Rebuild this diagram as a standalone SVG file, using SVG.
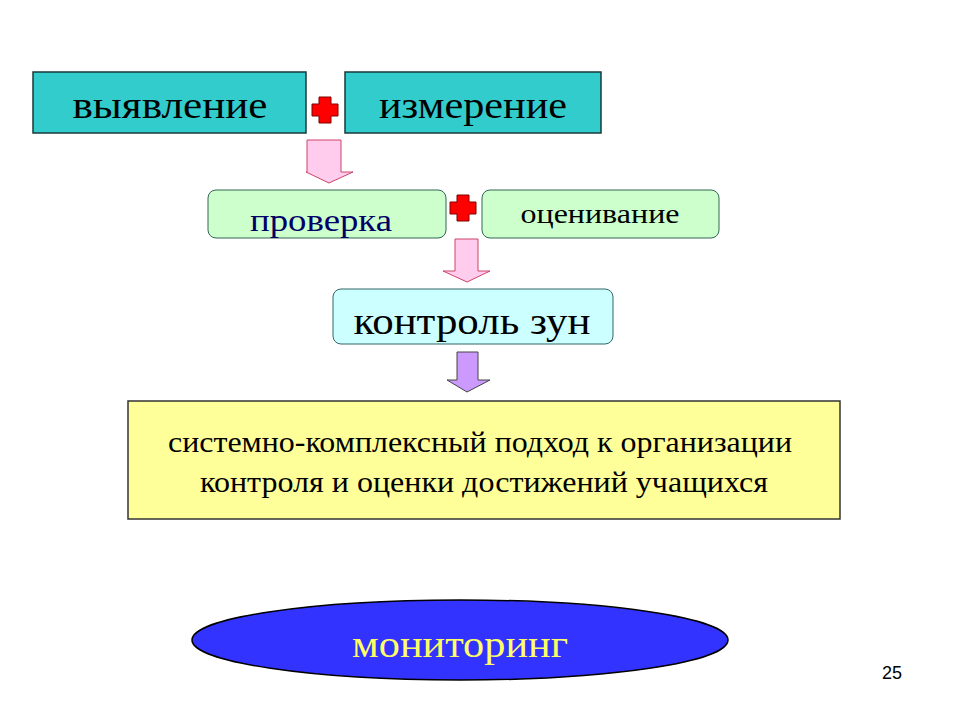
<svg xmlns="http://www.w3.org/2000/svg" width="960" height="720" viewBox="0 0 960 720">
<style>
text{font-family:"Liberation Serif",serif;text-anchor:middle}
.teal{fill:#33cccc;stroke:#1a3a3a;stroke-width:1.5}
.green{fill:#ccffcc;stroke:#336655;stroke-width:1}
.cross{fill:#ff0000;stroke:#800000;stroke-width:1}
</style>
<rect width="960" height="720" fill="#fff"/>
<g id="vyyavlenie"><rect class="teal" x="33" y="72" width="273" height="61"/><text x="170" y="118" font-size="37" textLength="195" lengthAdjust="spacingAndGlyphs">выявление</text></g>
<g id="izmerenie"><rect class="teal" x="345" y="72" width="256" height="61"/><text x="473" y="118" font-size="37" textLength="188" lengthAdjust="spacingAndGlyphs">измерение</text></g>
<g id="proverka"><rect class="green" x="208" y="190" width="238" height="48" rx="8"/><text x="321" y="231" font-size="32" fill="#000066" textLength="142" lengthAdjust="spacingAndGlyphs">проверка</text></g>
<g id="otsenivanie"><rect class="green" x="482" y="190" width="237" height="48" rx="8"/><text x="600" y="223" font-size="27" textLength="159" lengthAdjust="spacingAndGlyphs">оценивание</text></g>
<g id="kontrol"><rect x="333" y="289" width="280" height="55" rx="8" fill="#ccffff" stroke="#336666" stroke-width="1"/><text x="472" y="334" font-size="37" textLength="237" lengthAdjust="spacingAndGlyphs">контроль зун</text></g>
<g id="podhod"><rect x="128" y="401" width="712" height="118" fill="#ffff99" stroke="#333" stroke-width="1.5"/><text x="480" y="452" font-size="29" textLength="624" lengthAdjust="spacingAndGlyphs">системно-комплексный подход к организации</text><text x="484" y="492" font-size="29" textLength="568" lengthAdjust="spacingAndGlyphs">контроля и оценки достижений учащихся</text></g>
<g id="monitoring"><ellipse cx="460" cy="640" rx="268" ry="40" fill="#3333ff" stroke="#000" stroke-width="1.5"/><text x="460" y="657" font-size="37" fill="#ffff66" textLength="216" lengthAdjust="spacingAndGlyphs">мониторинг</text></g>
<text x="892" y="679" font-size="18" style="font-family:'Liberation Sans',sans-serif">25</text>
<g id="connectors">
<path class="cross" d="M319,97h12v7h7v12h-7v7h-12v-7h-7v-12h7z"/>
<path class="cross" d="M457,195h12v7h7v12h-7v7h-12v-7h-7v-12h7z"/>
<path d="M307,140h34v32h12l-24,11l-23,-11h1z" fill="#ffccee" stroke="#cc4466" stroke-width="1"/>
<path d="M455,239h23v32h12l-23,11l-24,-11h12z" fill="#ffccee" stroke="#cc4466" stroke-width="1"/>
<path d="M457,352h21v28h12l-23,12l-20,-12h10z" fill="#cc99ff" stroke="#444" stroke-width="1"/>
</g>
</svg>
